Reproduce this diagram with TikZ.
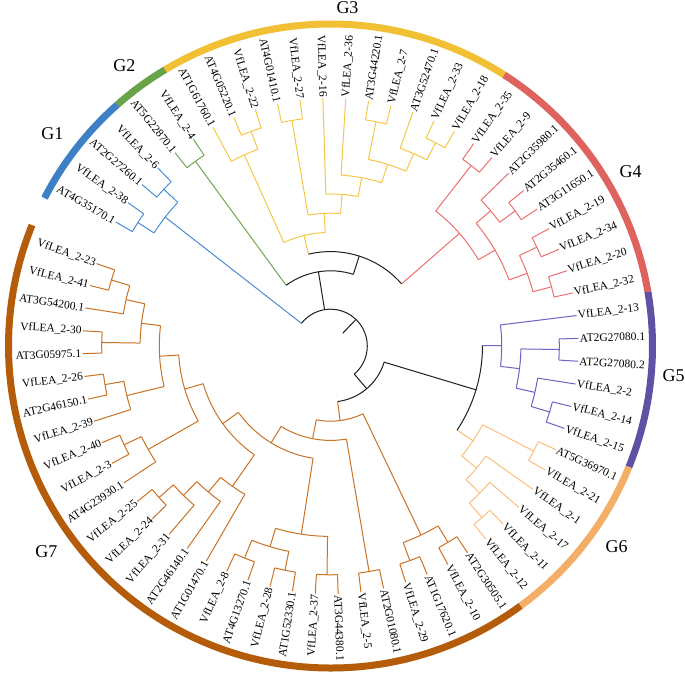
\documentclass[tikz,border=0pt]{standalone}
\usepackage{fontspec}
\setmainfont{Liberation Serif}

\definecolor{gone}{RGB}{74,140,208}
\definecolor{gtwo}{RGB}{112,168,82}
\definecolor{gthree}{RGB}{245,199,72}
\definecolor{gfour}{RGB}{234,112,112}
\definecolor{gfive}{RGB}{118,94,196}
\definecolor{gsix}{RGB}{250,190,125}
\definecolor{gseven}{RGB}{200,114,36}
\definecolor{rone}{RGB}{62,128,197}
\definecolor{rtwo}{RGB}{104,163,72}
\definecolor{rthree}{RGB}{242,192,52}
\definecolor{rfour}{RGB}{222,99,94}
\definecolor{rfive}{RGB}{98,80,165}
\definecolor{rsix}{RGB}{243,175,104}
\definecolor{rseven}{RGB}{181,92,10}
\definecolor{spine}{RGB}{30,30,30}

\def\tipr{248}
\def\levstep{19.2}

% one tip of the tree, with its label
\newcommand\leafnode[4]{%
  \pgfmathsetmacro\lfA{150-5.2941*#2}%
  \expandafter\xdef\csname ang@#1\endcsname{\lfA}%
  \expandafter\xdef\csname hgt@#1\endcsname{0}%
  \expandafter\xdef\csname col@#1\endcsname{#3}%
  \coordinate (#1) at (\lfA:\tipr pt);
  \pgfmathtruncatemacro\lfR{and(\lfA>-90,\lfA<90)}%
  \ifnum\lfR=1
    \node[lbl,anchor=west,rotate=\lfA] (#1-t) at (#1) {#4};
  \else
    \pgfmathsetmacro\lfB{\lfA+180}%
    \node[lbl,anchor=east,rotate=\lfB] (#1-t) at (#1) {#4};
  \fi
}

% inner node: arc at its level, spokes out to the children
\newcommand\clade[3]{%
  \gdef\clH{0}\gdef\clA{}\gdef\clB{}%
  \foreach \ch in {#2}{%
    \pgfmathsetmacro\clT{max(\clH,\csname hgt@\ch\endcsname)}%
    \xdef\clH{\clT}%
    \ifx\clA\empty\xdef\clA{\csname ang@\ch\endcsname}\fi
    \xdef\clB{\csname ang@\ch\endcsname}%
  }%
  \pgfmathsetmacro\clH{\clH+1}%
  \pgfmathsetmacro\clR{\tipr-\levstep*\clH}%
  \pgfmathsetmacro\clM{(\clA+\clB)/2}%
  \expandafter\xdef\csname ang@#1\endcsname{\clM}%
  \expandafter\xdef\csname hgt@#1\endcsname{\clH}%
  \expandafter\xdef\csname col@#1\endcsname{#3}%
  \coordinate (#1) at (\clM:\clR pt);
  \foreach \ch in {#2}{%
    \edef\clC{\csname col@\ch\endcsname}%
    \edef\clD{\csname ang@\ch\endcsname}%
    \draw[twig,color=\clC] (\clD:\clR pt) -- (\ch);
  }%
  \draw[twig,color=#3] (\clA:\clR pt) arc[start angle=\clA, end angle=\clB, radius=\clR pt];
}

\begin{document}
\begin{tikzpicture}[
    x=1pt, y=1pt,
    lbl/.style={inner sep=1.2pt, font=\fontsize{11.5}{13}\selectfont},
    grp/.style={inner sep=0pt, font=\fontsize{18}{20}\selectfont},
    twig/.style={line width=1pt, line join=round},
    ring/.style={line width=7pt}
  ]
  \useasboundingbox (-330.5,-331) rectangle (354.5,346);

  % tips, clockwise from G1
  \foreach \n/\g/\lab [count=\i from 0] in {
      at4g35170/gone/AT4G35170.1, v38/gone/VfLEA\_2-38, at2g27260/gone/AT2G27260.1, v6/gone/VfLEA\_2-6,
      at5g22870/gtwo/AT5G22870.1, v4/gtwo/VfLEA\_2-4,
      at1g61760/gthree/AT1G61760.1, at4g05220/gthree/AT4G05220.1, v22/gthree/VfLEA\_2-22,
      at4g01410/gthree/AT4G01410.1, v27/gthree/VfLEA\_2-27, v16/gthree/VfLEA\_2-16,
      v36/gthree/VfLEA\_2-36, at3g44220/gthree/AT3G44220.1, v7/gthree/VfLEA\_2-7,
      at3g52470/gthree/AT3G52470.1, v33/gthree/VfLEA\_2-33, v18/gthree/VfLEA\_2-18,
      v35/gfour/VfLEA\_2-35, v9/gfour/VfLEA\_2-9, at2g35980/gfour/AT2G35980.1,
      at2g35460/gfour/AT2G35460.1, at3g11650/gfour/AT3G11650.1, v19/gfour/VfLEA\_2-19,
      v34/gfour/VfLEA\_2-34, v20/gfour/VfLEA\_2-20, v32/gfour/VfLEA\_2-32,
      v13/gfive/VfLEA\_2-13, at2g27080a/gfive/AT2G27080.1, at2g27080b/gfive/AT2G27080.2,
      v2/gfive/VfLEA\_2-2, v14/gfive/VfLEA\_2-14, v15/gfive/VfLEA\_2-15,
      at5g36970/gsix/AT5G36970.1, v21/gsix/VfLEA\_2-21, v1/gsix/VfLEA\_2-1,
      v17/gsix/VfLEA\_2-17, v11/gsix/VfLEA\_2-11, v12/gsix/VfLEA\_2-12,
      at2g30505/gseven/AT2G30505.1, v10/gseven/VfLEA\_2-10, at1g17620/gseven/AT1G17620.1,
      v29/gseven/VfLEA\_2-29, at2g01080/gseven/AT2G01080.1, v5/gseven/VfLEA\_2-5,
      at3g44380/gseven/AT3G44380.1, v37/gseven/VfLEA\_2-37, at1g52330/gseven/AT1G52330.1,
      v28/gseven/VfLEA\_2-28, at4g13270/gseven/AT4G13270.1, v8/gseven/VfLEA\_2-8,
      at1g01470/gseven/AT1G01470.1, at2g46140/gseven/AT2G46140.1, v31/gseven/VfLEA\_2-31,
      v24/gseven/VfLEA\_2-24, v25/gseven/VfLEA\_2-25, at4g23930/gseven/AT4G23930.1,
      v3/gseven/VfLEA\_2-3, v40/gseven/VfLEA\_2-40, v39/gseven/VfLEA\_2-39,
      at2g46150/gseven/AT2G46150.1, v26/gseven/VfLEA\_2-26, at3g05975/gseven/AT3G05975.1,
      v30/gseven/VfLEA\_2-30, at3g54200/gseven/AT3G54200.1, v41/gseven/VfLEA\_2-41,
      v23/gseven/VfLEA\_2-23}
    {\leafnode{\n}{\i}{\g}{\lab}}

  % G1
  \clade{g1a}{at4g35170,v38}{gone}
  \clade{g1b}{at2g27260,v6}{gone}
  \clade{g1}{g1a,g1b}{gone}
  % G2
  \clade{g2}{at5g22870,v4}{gtwo}
  % G3
  \clade{g3a}{at4g05220,v22}{gthree}
  \clade{g3b}{at1g61760,g3a}{gthree}
  \clade{g3c}{at4g01410,v27}{gthree}
  \clade{g3d}{at3g44220,v7}{gthree}
  \clade{g3e}{v33,v18}{gthree}
  \clade{g3f}{at3g52470,g3e}{gthree}
  \clade{g3g}{g3d,g3f}{gthree}
  \clade{g3h}{v36,g3g}{gthree}
  \clade{g3i}{v16,g3h}{gthree}
  \clade{g3j}{g3c,g3i}{gthree}
  \clade{g3}{g3b,g3j}{gthree}
  % G4
  \clade{g4a}{v35,v9}{gfour}
  \clade{g4b}{at2g35460,at3g11650}{gfour}
  \clade{g4c}{at2g35980,g4b}{gfour}
  \clade{g4d}{v19,v34}{gfour}
  \clade{g4e}{v20,v32}{gfour}
  \clade{g4f}{g4d,g4e}{gfour}
  \clade{g4g}{g4c,g4f}{gfour}
  \clade{g4}{g4a,g4g}{gfour}
  % G5
  \clade{g5a}{at2g27080a,at2g27080b}{gfive}
  \clade{g5b}{v14,v15}{gfive}
  \clade{g5c}{v2,g5b}{gfive}
  \clade{g5d}{g5a,g5c}{gfive}
  \clade{g5}{v13,g5d}{gfive}
  % G6
  \clade{g6a}{at5g36970,v21}{gsix}
  \clade{g6b}{v11,v12}{gsix}
  \clade{g6c}{v17,g6b}{gsix}
  \clade{g6d}{v1,g6c}{gsix}
  \clade{g6}{g6a,g6d}{gsix}
  % G7
  \clade{g7a}{at2g30505,v10}{gseven}
  \clade{g7b}{at1g17620,v29}{gseven}
  \clade{g7c}{g7a,g7b}{gseven}
  \clade{g7d}{at2g01080,v5}{gseven}
  \clade{g7e}{at3g44380,v37}{gseven}
  \clade{g7f}{at1g52330,v28}{gseven}
  \clade{g7g}{at4g13270,v8}{gseven}
  \clade{g7h}{g7f,g7g}{gseven}
  \clade{g7i}{g7e,g7h}{gseven}
  \clade{g7j}{v24,v25}{gseven}
  \clade{g7k}{v31,g7j}{gseven}
  \clade{g7l}{at2g46140,g7k}{gseven}
  \clade{g7m}{at1g01470,g7l}{gseven}
  \clade{g7n}{v3,v40}{gseven}
  \clade{g7o}{at4g23930,g7n}{gseven}
  \clade{g7p}{at2g46150,v26}{gseven}
  \clade{g7q}{v39,g7p}{gseven}
  \clade{g7r}{at3g05975,v30}{gseven}
  \clade{g7s}{v41,v23}{gseven}
  \clade{g7t}{at3g54200,g7s}{gseven}
  \clade{g7u}{g7r,g7t}{gseven}
  \clade{g7v}{g7q,g7u}{gseven}
  \clade{g7w}{g7o,g7v}{gseven}
  \clade{g7x}{g7m,g7w}{gseven}
  \clade{g7y}{g7i,g7x}{gseven}
  \clade{g7z}{g7d,g7y}{gseven}
  \clade{g7}{g7c,g7z}{gseven}
  % backbone
  \clade{g56}{g5,g6}{spine}
  \clade{bb}{g56,g7}{spine}
  \clade{n2}{g3,g4}{spine}
  \clade{n1}{g2,n2}{spine}
  \clade{rt}{g1,n1,bb}{spine}
  \edef\rtA{\csname ang@rt\endcsname}
  \pgfmathsetmacro\stubr{\tipr-12*\levstep}
  \coordinate (rtbase) at (\rtA:\stubr pt);
  \draw[twig,spine] (rt) -- (rtbase);

  % outer ring
  \foreach \rc/\a/\b in {rone/0/3, rtwo/4/5, rthree/6/17, rfour/18/26, rfive/27/32, rsix/33/38, rseven/39/66}
    {
    \pgfmathsetmacro\rs{152.647-5.2941*\a}
    \pgfmathsetmacro\re{147.353-5.2941*\b}
    \draw[ring,color=\rc] (\rs:322pt) arc[start angle=\rs, end angle=\re, radius=322pt];
    }

  \node[grp] (lg1) at (-278,212) {G1};
  \node[grp] (lg2) at (-206,280) {G2};
  \node[grp] (lg3) at (17,338) {G3};
  \node[grp] (lg4) at (300,174) {G4};
  \node[grp] (lg5) at (343,-30) {G5};
  \node[grp] (lg6) at (286,-201) {G6};
  \node[grp] (lg7) at (-284,-206) {G7};
\end{tikzpicture}
\end{document}
